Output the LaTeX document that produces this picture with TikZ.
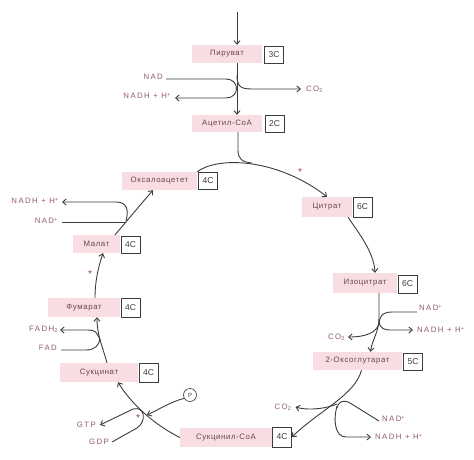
\documentclass[tikz,border=0pt]{standalone}
\usepackage{fontspec}
\setmainfont{Liberation Sans}
\newfontfamily\lblfont[LetterSpace=8]{Liberation Sans}
\newfontfamily\chemfont[LetterSpace=18]{Liberation Sans}
\usetikzlibrary{arrows.meta}
\definecolor{pinkbg}{HTML}{F8DDE3}
\definecolor{lbl}{HTML}{6A4450}
\definecolor{chem}{HTML}{955C72}
\definecolor{ln}{HTML}{3C3C3C}
\definecolor{ast}{HTML}{A8384F}
\begin{document}
\begin{tikzpicture}[x=1pt,y=-1pt,
  pinkbox/.style={fill=pinkbg, inner sep=0pt, font=\lblfont\fontsize{7.8}{9}\selectfont, text=lbl, minimum height=18pt},
  cbox/.style={draw=ln, line width=0.75pt, fill=white, inner sep=0pt, minimum width=19pt, minimum height=17pt, font=\fontsize{8.5}{9}\selectfont, text=ln},
  chemlbl/.style={font=\chemfont\fontsize{7.8}{9}\selectfont, text=chem, inner sep=0pt},
  conn/.style={draw=ln, line width=0.9pt},
  arr/.style={conn, -{Straight Barb[length=3.5pt,width=6pt]}},
  astk/.style={text=ast, font=\fontsize{10}{10}\selectfont, inner sep=0pt},
  pcirc/.style={circle, draw=ln, line width=0.6pt, minimum size=13pt, inner sep=0pt, font=\fontsize{6}{7}\selectfont, text=ln}]
\fill[white] (0,0) rectangle (474,460);
\useasboundingbox (0,0) rectangle (474,460);

% metabolite boxes
\node[pinkbox, minimum width=70pt] (pyr) at (227,54) {Пируват};
\node[cbox] (pyrC) at (274,54.5) {3C};
\node[pinkbox, minimum width=70pt, minimum height=17pt] (acet) at (227,123.5) {Ацетил-CoA};
\node[cbox] (acetC) at (274.5,124) {2C};
\node[pinkbox, minimum width=75pt] (oxa) at (159.5,181) {Оксалоацетет};
\node[cbox] (oxaC) at (208,181) {4C};
\node[pinkbox, minimum width=50pt, minimum height=20pt] (cit) at (327,207) {Цитрат};
\node[cbox, minimum height=20pt] (citC) at (362.5,207) {6C};
\node[pinkbox, minimum width=64pt, minimum height=20pt] (iso) at (365,283) {Изоцитрат};
\node[cbox, minimum height=18pt] (isoC) at (407.5,284) {6C};
\node[pinkbox, minimum width=89pt] (oxo) at (357.5,361) {2-Оксоглутарат};
\node[cbox] (oxoC) at (413,361.5) {5C};
\node[pinkbox, minimum width=92pt, minimum height=19pt] (sucoa) at (226,437.5) {Сукцинил-CoA};
\node[cbox, minimum height=20pt] (sucoaC) at (282,437) {4C};
\node[pinkbox, minimum width=78pt, minimum height=19pt] (succ) at (99,372.5) {Сукцинат};
\node[cbox, minimum height=19pt] (succC) at (148.5,372.5) {4C};
\node[pinkbox, minimum width=72pt, minimum height=19pt] (fum) at (84,307.5) {Фумарат};
\node[cbox, minimum height=19pt] (fumC) at (130.5,307.5) {4C};
\node[pinkbox, minimum width=47pt] (mal) at (96.5,244) {Малат};
\node[cbox] (malC) at (130.5,244.5) {4C};

% side labels
\node[chemlbl, anchor=east] (nad1) at (163,77) {NAD};
\node[chemlbl, anchor=east] (nadh1) at (171,96) {NADH + H\textsuperscript{+}};
\node[chemlbl, anchor=west] (co21) at (306,89) {CO\textsubscript{2}};
\node[chemlbl, anchor=east] (nadh4) at (59,201) {NADH + H\textsuperscript{+}};
\node[chemlbl, anchor=east] (nad4) at (58,221) {NAD\textsuperscript{+}};
\node[chemlbl, anchor=west] (nad2) at (419,308) {NAD\textsuperscript{+}};
\node[chemlbl, anchor=west] (nadh2) at (417,330) {NADH + H\textsuperscript{+}};
\node[chemlbl, anchor=east] (co22) at (345,337) {CO\textsubscript{2}};
\node[chemlbl] (co23) at (283,407) {CO\textsubscript{2}};
\node[chemlbl, anchor=west] (nad3) at (382,419) {NAD\textsuperscript{+}};
\node[chemlbl, anchor=west] (nadh3) at (375,437) {NADH + H\textsuperscript{+}};
\node[chemlbl, anchor=east] (fadh) at (58,329) {FADH\textsubscript{2}};
\node[chemlbl, anchor=east] (fad) at (57,348) {FAD};
\node[chemlbl, anchor=east] (gtp) at (96,425) {GTP};
\node[chemlbl, anchor=east] (gdp) at (109,442) {GDP};
\node[pcirc] (P) at (190,395) {P};
\node[astk] (a1) at (300,172) {*};
\node[astk] (a2) at (90,274) {*};
\node[astk] (a3) at (138,418) {*};

% top input
\coordinate (t0) at (237,12);
\draw[arr] (t0) -- (t0 |- pyr.north);
\draw[arr] (t0 |- pyr.south) -- (t0 |- acet.north);
\draw[arr] ([xshift=3pt]nad1.east |- 0,79) -- (226,79) .. controls (240,79) and (240,98) .. (226,98) -- ([xshift=4pt]nadh1.east |- 0,98);
\draw[arr] (237,75) .. controls (237,86) and (240,89) .. (252,89) -- ([xshift=-5pt]co21.west);

% acetyl-CoA into cycle
\draw[conn] ([xshift=1pt]t0 |- acet.south) -- (238,150) .. controls (238,159) and (242,162) .. (252,163);
\draw[arr] (oxa.north east) .. controls (220,155) and (280,160) .. (cit.north);

% citrate -> isocitrate
\draw[arr] ([xshift=21pt]cit.south) .. controls (358,232) and (374,252) .. ([xshift=10pt]iso.north);

% isocitrate -> 2-oxoglutarate
\draw[arr] ([xshift=14pt]iso.south) -- (379,318) .. controls (379,332) and (372,340) .. ([xshift=13pt]oxo.north);
\draw[conn] ([shift={(-2pt,-4pt)}]nad2.west) -- (392,312) .. controls (382,312) and (379,317) .. (379,325);
\draw[arr] (379,321) .. controls (380,329) and (384,330) .. (392,330) -- ([xshift=-4pt]nadh2.west);
\draw[arr] (379,323) .. controls (377,333) and (365,337) .. ([xshift=3pt]co22.east);

% 2-oxoglutarate -> succinyl-CoA
\draw[arr] ([xshift=4pt]oxo.south) .. controls (355,395) and (320,410) .. (sucoaC.east);
\draw[arr] (337,404) .. controls (322,410) and (305,410) .. ([xshift=4pt]co23.east);
\draw[conn] ([shift={(-3pt,-2pt)}]nad3.west) -- (350,403) .. controls (343,399) and (338,402) .. (337,408);
\draw[arr] (337,406) .. controls (333,420) and (335,437) .. (346,437) -- ([xshift=-4pt]nadh3.west);

% succinyl-CoA -> succinate
\draw[arr] (sucoa.west) .. controls (155,425) and (132,405) .. ([xshift=19pt]succ.south);
\draw[arr] (P.210) .. controls (170,402) and (158,410) .. (147,415);
\draw[arr] ([xshift=3pt]gdp.east) -- (137,428) .. controls (147,421) and (145,406) .. (133,409) -- ([xshift=4pt]gtp.east);

% succinate -> fumarate
\draw[arr] ([xshift=8pt]succ.north) .. controls (102,345) and (97,335) .. ([xshift=13pt]fum.south);
\draw[arr] (100,340) .. controls (97,332) and (95,330) .. (88,330) -- ([xshift=2pt]fadh.east |- 0,330);
\draw[conn] ([xshift=4pt]fad.east |- 0,350) -- (86,350) .. controls (95,350) and (99,345) .. (100,339);

% fumarate -> malate
\draw[arr] ([xshift=11pt]fum.north) .. controls (95,282) and (98,268) .. ([xshift=6.5pt]mal.south);

% malate -> oxaloacetate
\draw[arr] ([xshift=18.5pt]mal.north) .. controls (127,221) and (140,205) .. ([xshift=-6.5pt]oxa.south);
\draw[conn] ([xshift=4pt]nad4.east |- 0,222) -- (126,222);
\draw[arr] (126,221) .. controls (129,210) and (127,202) .. (116,202) -- ([xshift=3pt]nadh4.east |- 0,202);
\end{tikzpicture}
\end{document}
